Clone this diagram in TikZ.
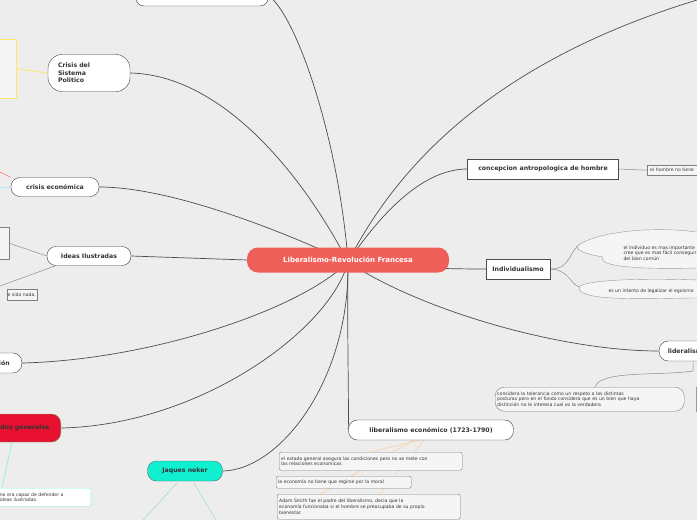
\documentclass[tikz,border=0pt]{standalone}
\usepackage{fontspec}
\setmainfont{DejaVu Sans}
\usetikzlibrary{backgrounds}
\begin{document}
\begin{tikzpicture}[x=1pt,y=-1pt,
  topic/.style={draw=black!75,fill=white,rounded corners=9pt,font=\bfseries\fontsize{6.2}{7.5}\selectfont,text=black!80,inner sep=0pt},
  sq/.style={draw=black!70,fill=white,font=\bfseries\fontsize{6.2}{7.5}\selectfont,text=black!80,inner sep=0pt},
  leaf/.style={draw=black!50,fill=white!96!black,rounded corners=2pt,font=\fontsize{4.6}{5.6}\selectfont,text=black!80,align=left,inner sep=2pt},
  br/.style={draw=black!70,line width=0.7pt},
  thin/.style={draw=black!45,line width=0.5pt}]
\useasboundingbox (0,0) rectangle (697,520);
% main
\node[fill={rgb,255:red,240;green,96;blue,90},rounded corners=11pt,minimum width=202pt,minimum height=25pt,text=white,font=\bfseries\fontsize{7}{8}\selectfont] (c) at (348,260) {Liberalismo-Revolución Francesa};
\coordinate (o) at (348,262);
% top node
\node[topic,minimum width=132pt,minimum height=22pt,rounded corners=8pt] (t) at (202,-5) {};
\node[topic,minimum width=82pt,minimum height=37pt,rounded corners=14pt,align=left,text width=62pt] (csp) at (89,73) {Crisis del\\Sistema\\Politico};
\node[topic,minimum width=88pt,minimum height=19pt] (ce) at (55,187) {crisis económica};
\node[topic,minimum width=84pt,minimum height=19pt] (ii) at (89,256) {Ideas Ilustradas};
\node[topic,minimum width=60pt,minimum height=20pt,anchor=east] (ion) at (22,363) {\hspace*{25pt}ión};
\node[draw=green!60!black!60,fill={rgb,255:red,232;green,16;blue,48},rounded corners=9pt,minimum width=110pt,minimum height=28pt,anchor=east,font=\bfseries\fontsize{6.2}{7.5}\selectfont,text=black!80] (eg) at (61,428) {\hspace*{34pt}ados generales};
\node[draw=black!60,fill={rgb,255:red,16;green,240;blue,208},rounded corners=9pt,minimum width=75pt,minimum height=20pt,font=\bfseries\fontsize{6.2}{7.5}\selectfont,text=black!80] (jn) at (185,471) {Jaques neker};
\node[topic,minimum width=165pt,minimum height=20pt] (le) at (431,430) {liberalismo económico (1723-1790)};
\node[sq,minimum width=151pt,minimum height=20pt] (ca) at (543,169) {concepcion antropologica de hombre};
\node[sq,minimum width=64pt,minimum height=20pt] (ind) at (518,269) {Individualismo};
\node[topic,minimum width=60pt,minimum height=20pt,anchor=west] (lid) at (659,351) {\hspace*{-4pt}lideralismo};
% leaves
\node[leaf,anchor=north west,text width=179pt,minimum height=18pt] (l1) at (279,452) {el estado general asegura las condiciones pero no se mete con\\las relaciones economicas};
\node[leaf,anchor=north west,text width=131pt,minimum height=12pt] (l2) at (276,476) {la economía no tiene que regirse por la moral};
\node[leaf,anchor=north west,text width=179pt,minimum height=25pt] (l3) at (277,494) {Adam Smith fue el padre del liberalismo, decia que la\\economía funcionaba si el hombre se preocupaba de su propio\\bienestar.};
\node[leaf,rounded corners=0pt,anchor=north west,text width=58pt,minimum height=10pt,inner sep=1pt] (l4) at (647,165) {\hspace*{2pt}el hombre no tiene};
\node[leaf,rounded corners=9pt,anchor=north west,text width=185pt,minimum height=24pt] (l5) at (495,387) {considera la tolerancia como un respeto a las distintas\\posturas pero en el fondo considera que es un bien que haya\\distinción no le interesa cual es la verdadera};
\node[leaf,draw=green!40!cyan!50,fill=white,anchor=north east,text width=96pt,minimum height=18pt] (l6) at (91,488) {\hspace*{7pt}no era capaz de defender a\\\hspace*{7pt}ideas ilustradas.};
\node[leaf,rounded corners=0pt,anchor=north east,minimum height=11pt,inner sep=1pt] (l7) at (37,289) {e sido nada.};
\node[leaf,rounded corners=0pt,anchor=north east,minimum width=20pt,minimum height=32pt] (l8) at (9,227) {};
\node[draw=yellow!80!orange!60,fill=white!96!black,minimum width=30pt,minimum height=59pt,anchor=north east] (l9) at (16,39) {};
\node[leaf,draw=black!40,fill=white,rounded corners=0pt,anchor=north west,minimum width=2pt,minimum height=24pt] (l10) at (696,387) {};
% clouds
\draw[black!40,fill=white!96!black] (697,232) .. controls (650,226) and (600,232) .. (580,244) .. controls (570,250) and (590,255) .. (603,257) .. controls (598,264) and (620,270) .. (697,268);
\node[font=\fontsize{4.6}{5.6}\selectfont,text=black!80,anchor=west,align=left] (cl1) at (620,253) {el individuo es mas importante\\cree que es mas fácil conseguir\\del bien común};
\draw[black!40,fill=white!96!black] (697,280) .. controls (640,278) and (590,280) .. (580,286) .. controls (575,292) and (590,296) .. (600,297) .. controls (630,300) and (670,298) .. (697,298);
\node[font=\fontsize{4.6}{5.6}\selectfont,text=black!80,anchor=west] (cl2) at (605,291) {es un intento de legalizar el egoismo};
\begin{scope}[on background layer]
\fill[black!7] (0,0) rectangle (697,520);
\draw[br] (o) .. controls (340,150) and (300,20) .. (t.east);
\draw[br] (o) .. controls (300,170) and (220,75) .. (csp.east);
\draw[br] (o) .. controls (280,230) and (170,187) .. (ce.east);
\draw[br] (c.west) -- (ii.east);
\draw[br] (o) .. controls (300,310) and (150,360) .. (ion.east);
\draw[br] (o) .. controls (330,330) and (200,425) .. (eg.east);
\draw[br] (o) .. controls (350,380) and (280,470) .. (jn.east);
\draw[br] (o) .. controls (347,330) and (349,400) .. (le.west);
\draw[br] (o) .. controls (390,200) and (430,169) .. (ca.west);
\draw[br] (o) .. controls (400,268) and (450,269) .. (ind.west);
\draw[br] (o) .. controls (420,310) and (560,351) .. (lid.west);
\draw[br] (o) .. controls (400,160) and (500,60) .. (697,0);
\draw[thin] (ca.east) -- (l4.west);
\draw[thin] (ind.east) .. controls (570,270) and (570,250) .. (580,244);
\draw[thin] (ind.east) .. controls (570,270) and (570,285) .. (580,287);
\draw[thin] (693,361) -- (693,371) .. controls (660,376) and (600,370) .. (595,387);
\draw[thin] (ii.west) -- (l8.east);
\draw[thin] (55,266) -- (0,286);
\draw[yellow!80!orange!70,line width=0.6pt] (csp.west) -- (l9.east);
\draw[red!50!pink,line width=0.5pt] (ce.north west) -- (0,172);
\draw[cyan!40,line width=0.6pt] (ce.west) -- (0,188);
\draw[green!50!cyan!60,line width=0.5pt] (12,442) -- (2,488);
\draw[cyan!40!green!40,line width=0.5pt] (177,483) -- (143,520);
\draw[cyan!40!green!40,line width=0.5pt] (194,483) -- (216,520);
\draw[orange!40,line width=0.5pt] (420,440) -- (370,452);
\draw[orange!40,line width=0.5pt] (414,440) -- (320,494);
\draw[orange!40,line width=0.5pt] (424,440) -- (380,494);
\end{scope}
\end{tikzpicture}
\end{document}
